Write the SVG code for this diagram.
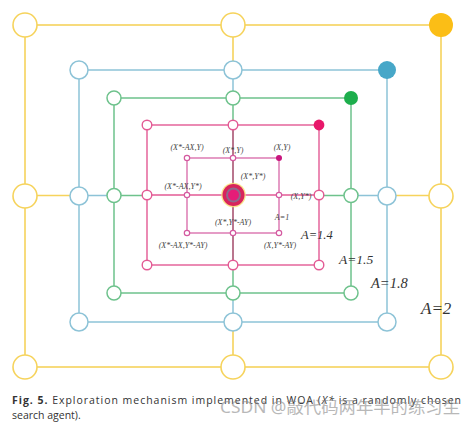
<svg xmlns="http://www.w3.org/2000/svg" width="474" height="426" viewBox="0 0 474 426">
<style>
.y{stroke:#F6D35C;stroke-width:1.6;fill:none}
.b{stroke:#8DC3D7;stroke-width:1.5;fill:none}
.g{stroke:#6EC28C;stroke-width:1.5;fill:none}
.p{stroke:#E35A94;stroke-width:1.4;fill:none}
.q{stroke:#D45AA0;stroke-width:1.2;fill:none}
.m{stroke:#9C3C5E;stroke-width:1.4;fill:none}
.ny{fill:#fff;stroke:#F6D35C;stroke-width:1.6}
.nb{fill:#fff;stroke:#8DC3D7;stroke-width:1.5}
.ng{fill:#fff;stroke:#6EC28C;stroke-width:1.5}
.np{fill:#fff;stroke:#E35A94;stroke-width:1.4}
.nq{fill:#fff;stroke:#D45AA0;stroke-width:1.2}
.l{font-family:"Liberation Serif",serif;font-style:italic;fill:#444;font-size:8px;text-anchor:middle}
.a{font-family:"Liberation Serif",serif;font-style:italic;fill:#333}
.c{font-family:"Open Sans","Lato",sans-serif;fill:#333;font-size:10.5px}
</style>
<rect width="474" height="426" fill="#fff"/>
<g id="connectors">
<rect class="y" x="25" y="25" width="416" height="342"/>
<rect class="b" x="79" y="70" width="308" height="252"/>
<rect class="g" x="114" y="98" width="237" height="195"/>
<rect class="p" x="147" y="125" width="172" height="140"/>
<rect class="q" x="187" y="158" width="92" height="75"/>
<path class="y" d="M25 195.5H79M387 195.5H441M233 25V70M233 322V367"/>
<path class="b" d="M79 195.5H114M351 195.5H387M233 70V98M233 293V322"/>
<path class="g" d="M114 195.5H147M319 195.5H351M233 98V125M233 265V293"/>
<path class="p" d="M147 195H319"/>
<path class="m" d="M233 125V265"/>
</g>
<g id="yellow-nodes">
<circle class="ny" cx="25" cy="25" r="12"/>
<circle class="ny" cx="233" cy="25" r="12"/>
<circle cx="441" cy="25" r="12" fill="#FBBE16"/>
<circle class="ny" cx="25" cy="196" r="12"/>
<circle class="ny" cx="441" cy="196" r="12"/>
<circle class="ny" cx="25" cy="367" r="12"/>
<circle class="ny" cx="233" cy="367" r="12"/>
<circle class="ny" cx="441" cy="367" r="12"/>
</g>
<g id="blue-nodes">
<circle class="nb" cx="79" cy="70" r="9"/>
<circle class="nb" cx="233" cy="70" r="9"/>
<circle cx="387" cy="70" r="9" fill="#47A7C8"/>
<circle class="nb" cx="79" cy="196" r="9"/>
<circle class="nb" cx="387" cy="196" r="9"/>
<circle class="nb" cx="79" cy="322" r="9"/>
<circle class="nb" cx="233" cy="322" r="9"/>
<circle class="nb" cx="387" cy="322" r="9"/>
</g>
<g id="green-nodes">
<circle class="ng" cx="114" cy="98" r="7"/>
<circle class="ng" cx="233" cy="98" r="7"/>
<circle cx="351" cy="98" r="7" fill="#1DAE4C"/>
<circle class="ng" cx="114" cy="195.5" r="7"/>
<circle class="ng" cx="351" cy="195.5" r="7"/>
<circle class="ng" cx="114" cy="293" r="7"/>
<circle class="ng" cx="233" cy="293" r="7"/>
<circle class="ng" cx="351" cy="293" r="7"/>
</g>
<g id="pink-outer-nodes">
<circle class="np" cx="147" cy="125" r="4.8"/>
<circle class="np" cx="233" cy="125" r="4.8"/>
<circle cx="319" cy="125" r="5.4" fill="#E8176A"/>
<circle class="np" cx="147" cy="195" r="4.8"/>
<circle class="np" cx="319" cy="195" r="4.8"/>
<circle class="np" cx="147" cy="265" r="4.8"/>
<circle class="np" cx="233" cy="265" r="4.8"/>
<circle class="np" cx="319" cy="265" r="4.8"/>
</g>
<g id="pink-inner-nodes">
<circle class="nq" cx="187" cy="158" r="2.7"/>
<circle class="nq" cx="233" cy="158" r="2.7"/>
<circle cx="279" cy="158" r="3" fill="#C8157E"/>
<circle class="nq" cx="187" cy="195" r="2.7"/>
<circle class="nq" cx="279" cy="195" r="2.7"/>
<circle class="nq" cx="187" cy="233" r="2.7"/>
<circle class="nq" cx="233" cy="233" r="2.7"/>
<circle class="nq" cx="279" cy="233" r="2.7"/>
</g>
<g id="center-node">
<circle cx="233.5" cy="195" r="12.3" fill="#F7E27A" opacity="0.85"/>
<circle cx="233.5" cy="195" r="11" fill="#D8245C"/>
<circle cx="233.5" cy="195" r="7.5" fill="#8E6A8C"/>
<circle cx="233.5" cy="195" r="5.5" fill="#E61C78"/>
</g>
<g id="labels">
<text class="l" x="187" y="150">(X*-AX,Y)</text>
<text class="l" x="233" y="153">(X*,Y)</text>
<text class="l" x="282" y="150">(X,Y)</text>
<text class="l" x="253" y="179">(X*,Y*)</text>
<text class="l" x="183" y="189">(X*-AX,Y*)</text>
<text class="l" x="301" y="198.5">(X,Y*)</text>
<text class="l" x="282" y="220" font-size="7px">A=1</text>
<text class="l" x="233" y="225">(X*,Y*-AY)</text>
<text class="l" x="183" y="248">(X*-AX,Y*-AY)</text>
<text class="l" x="280" y="248">(X,Y*-AY)</text>
<text class="a" x="301" y="239" font-size="12.5px">A=1.4</text>
<text class="a" x="339" y="264" font-size="13.5px">A=1.5</text>
<text class="a" x="371" y="288" font-size="14.5px">A=1.8</text>
<text class="a" x="421" y="314" font-size="17px">A=2</text>
</g>
<g id="caption">
<text class="c" x="12" y="404" textLength="449" lengthAdjust="spacing"><tspan font-weight="bold">Fig. 5.</tspan> Exploration mechanism implemented in WOA (<tspan font-style="italic">X*</tspan> is a randomly chosen</text>
<text class="c" x="12" y="419">search agent).</text>
<text x="220" y="413" font-family="'Noto Sans','Noto Sans CJK SC',sans-serif" font-size="16px" fill="#8a8a8a" opacity="0.6" textLength="240" lengthAdjust="spacingAndGlyphs">CSDN @敲代码两年半的练习生</text>
</g>
</svg>
